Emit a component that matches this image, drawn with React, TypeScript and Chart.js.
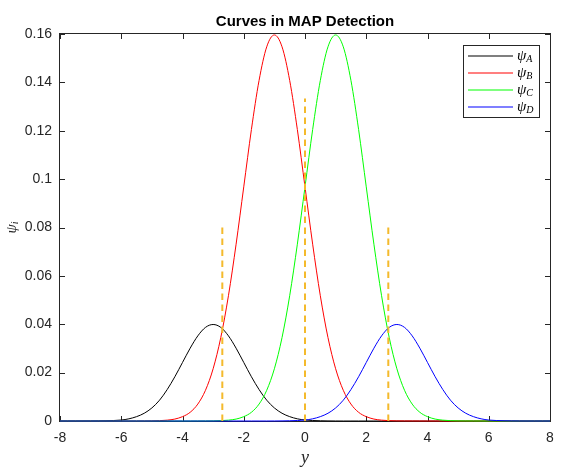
import React, { useEffect, useRef } from "react";
import { Chart, registerables } from "chart.js";

Chart.register(...registerables);

const xs = [-8, -7.75, -7.5, -7.25, -7, -6.75, -6.5, -6.25, -6, -5.75, -5.5, -5.25, -5, -4.75, -4.5, -4.25, -4, -3.75, -3.5, -3.25, -3, -2.75, -2.5, -2.25, -2, -1.75, -1.5, -1.25, -1, -0.75, -0.5, -0.25, 0, 0.25, 0.5, 0.75, 1, 1.25, 1.5, 1.75, 2, 2.25, 2.5, 2.75, 3, 3.25, 3.5, 3.75, 4, 4.25, 4.5, 4.75, 5, 5.25, 5.5, 5.75, 6, 6.25, 6.5, 6.75, 7, 7.25, 7.5, 7.75, 8];

const psiA = [0, 0, 0, 0, 0.00001, 0.00004, 0.0001, 0.0002, 0.0004, 0.0009, 0.0018, 0.0032, 0.0054, 0.0086, 0.013, 0.0183, 0.0242, 0.0301, 0.0352, 0.0387, 0.0399,
  0.0387, 0.0352, 0.0301, 0.0242, 0.0183, 0.013, 0.0086, 0.0054, 0.0032, 0.0018, 0.0009, 0.0004, 0.0002, 0.0001, 0.00004, 0.00001,
  0, 0, 0, 0, 0, 0, 0, 0, 0, 0, 0, 0, 0, 0, 0, 0, 0, 0, 0, 0, 0, 0, 0, 0, 0, 0, 0, 0];

const psiB = [0, 0, 0, 0, 0, 0, 0, 0, 0, 0,
  0.00001, 0.00002, 0.00005, 0.00014, 0.00035, 0.0008, 0.0018, 0.0036, 0.007, 0.0127, 0.0216, 0.0345, 0.0518, 0.0731, 0.0968, 0.1205, 0.1408, 0.1547,
  0.1596,
  0.1547, 0.1408, 0.1205, 0.0968, 0.0731, 0.0518, 0.0345, 0.0216, 0.0127, 0.007, 0.0036, 0.0018, 0.0008, 0.00035, 0.00014, 0.00005, 0.00002, 0.00001,
  0, 0, 0, 0, 0, 0, 0, 0, 0, 0, 0, 0, 0, 0, 0, 0, 0, 0];

const psiC = [0, 0, 0, 0, 0, 0, 0, 0, 0, 0, 0, 0, 0, 0, 0, 0, 0, 0,
  0.00001, 0.00002, 0.00005, 0.00014, 0.00035, 0.0008, 0.0018, 0.0036, 0.007, 0.0127, 0.0216, 0.0345, 0.0518, 0.0731, 0.0968, 0.1205, 0.1408, 0.1547,
  0.1596,
  0.1547, 0.1408, 0.1205, 0.0968, 0.0731, 0.0518, 0.0345, 0.0216, 0.0127, 0.007, 0.0036, 0.0018, 0.0008, 0.00035, 0.00014, 0.00005, 0.00002, 0.00001,
  0, 0, 0, 0, 0, 0, 0, 0, 0, 0];

const psiD = [0, 0, 0, 0, 0, 0, 0, 0, 0, 0, 0, 0, 0, 0, 0, 0, 0, 0, 0, 0, 0, 0, 0, 0, 0, 0, 0, 0,
  0.00001, 0.00004, 0.0001, 0.0002, 0.0004, 0.0009, 0.0018, 0.0032, 0.0054, 0.0086, 0.013, 0.0183, 0.0242, 0.0301, 0.0352, 0.0387,
  0.0399, 0.0387, 0.0352, 0.0301, 0.0242, 0.0183, 0.013, 0.0086, 0.0054, 0.0032, 0.0018, 0.0009, 0.0004, 0.0002, 0.0001, 0.00004, 0.00001, 0, 0, 0, 0];

const boundaryX = [-2.7, 0, 2.72];
const boundaryTop = [0.0802, 0.1333, 0.0802];

const seriesNames = ["A", "B", "C", "D"];
const seriesColors = ["#000000", "#ff0000", "#00ff00", "#0000ff"];
const seriesValues = [psiA, psiB, psiC, psiD];

const xTicks = [-8, -6, -4, -2, 0, 2, 4, 6, 8];
const yTicks = [0, 0.02, 0.04, 0.06, 0.08, 0.1, 0.12, 0.14, 0.16];

const AXIS = "#262626";
const SANS = "'Liberation Sans', Arial, Helvetica, sans-serif";
const SERIF = "'Liberation Serif', 'Times New Roman', serif";

const framePlugin = {
  id: "frame",
  beforeDatasetsDraw(chart: any) {
    const { ctx, chartArea: a, scales } = chart;
    ctx.save();
    ctx.strokeStyle = AXIS;
    ctx.lineWidth = 1;
    ctx.strokeRect(Math.round(a.left) - 0.5, Math.round(a.top) - 0.5, Math.round(a.right - a.left) + 1, Math.round(a.bottom - a.top) + 1);
    const tl = 5;
    ctx.beginPath();
    xTicks.forEach((v) => {
      const px = Math.round(scales.x.getPixelForValue(v)) + 0.5;
      ctx.moveTo(px, a.bottom);
      ctx.lineTo(px, a.bottom - tl);
      ctx.moveTo(px, a.top);
      ctx.lineTo(px, a.top + tl);
    });
    yTicks.forEach((v) => {
      const py = Math.round(scales.y.getPixelForValue(v)) + 0.5;
      ctx.moveTo(a.left, py);
      ctx.lineTo(a.left + tl, py);
      ctx.moveTo(a.right, py);
      ctx.lineTo(a.right - tl, py);
    });
    ctx.stroke();
    ctx.restore();
  },
  afterDraw(chart: any) {
    const { ctx, chartArea: a } = chart;
    const cx = (a.left + a.right) / 2;
    ctx.save();
    // title
    ctx.fillStyle = "#000";
    ctx.font = `bold 15px ${SANS}`;
    ctx.textAlign = "center";
    ctx.textBaseline = "alphabetic";
    ctx.fillText("Curves in MAP Detection", cx, 26);

    // x label
    ctx.fillStyle = AXIS;
    ctx.font = `italic 18px ${SERIF}`;
    ctx.textBaseline = "middle";
    ctx.fillText("y", cx, 458);

    // y label
    ctx.save();
    ctx.translate(12, (a.top + a.bottom) / 2);
    ctx.rotate(-Math.PI / 2);
    ctx.font = `italic 15px ${SERIF}`;
    ctx.textAlign = "left";
    ctx.textBaseline = "middle";
    const w1 = ctx.measureText("ψ").width;
    ctx.font = `italic 10px ${SERIF}`;
    const w2 = ctx.measureText("i").width;
    const sx = -(w1 + w2) / 2;
    ctx.font = `italic 15px ${SERIF}`;
    ctx.fillText("ψ", sx, 0);
    ctx.font = `italic 10px ${SERIF}`;
    ctx.fillText("i", sx + w1, 3);
    ctx.restore();

    // legend
    const lx = 463, ly = 45, lw = 76, lh = 72;
    ctx.fillStyle = "#fff";
    ctx.fillRect(lx, ly, lw, lh);
    ctx.strokeStyle = AXIS;
    ctx.lineWidth = 1;
    ctx.strokeRect(lx + 0.5, ly + 0.5, lw, lh);
    seriesNames.forEach((n, i) => {
      const y = 56 + i * 17;
      ctx.strokeStyle = seriesColors[i];
      ctx.lineWidth = 1.2;
      ctx.beginPath();
      ctx.moveTo(468, y);
      ctx.lineTo(513, y);
      ctx.stroke();
      ctx.fillStyle = "#000";
      ctx.textAlign = "left";
      ctx.textBaseline = "middle";
      ctx.font = `italic 15px ${SERIF}`;
      ctx.fillText("ψ", 517, y);
      const w = ctx.measureText("ψ").width;
      ctx.font = `italic 10px ${SERIF}`;
      ctx.fillText(n, 517 + w, y + 3);
    });
    ctx.restore();
  },
};

export default function App() {
  const ref = useRef<HTMLCanvasElement>(null);
  useEffect(() => {
    const canvas = ref.current;
    if (!canvas) return;
    const curveSets = seriesNames.map((n, i) => ({
      label: "ψ" + n,
      data: xs.map((x, k) => ({ x, y: seriesValues[i][k] })),
      borderColor: seriesColors[i],
      backgroundColor: seriesColors[i],
      borderWidth: 1,
      pointRadius: 0,
      cubicInterpolationMode: "monotone" as const,
      fill: false,
      clip: 4,
      order: 4 - i,
    }));
    const boundarySets = boundaryX.map((bx, i) => ({
      label: "boundary" + i,
      data: [{ x: bx, y: 0 }, { x: bx, y: boundaryTop[i] }],
      borderColor: "#F4BA2C",
      borderWidth: 2,
      borderDash: [6.5, 4.5],
      pointRadius: 0,
      fill: false,
      clip: 4,
      order: 0,
    }));
    const chart = new Chart(canvas, {
      type: "line",
      data: { datasets: [...boundarySets, ...curveSets] as any },
      plugins: [framePlugin],
      options: {
        responsive: false,
        animation: false,
        devicePixelRatio: 1,
        layout: { padding: { top: 34, right: 15, left: 0, bottom: 0 } },
        plugins: { legend: { display: false }, title: { display: false }, tooltip: { enabled: false } },
        scales: {
          x: {
            type: "linear",
            min: -8,
            max: 8,
            afterFit: (s: any) => { s.height = 53; },
            afterBuildTicks: (s: any) => { s.ticks = xTicks.map((v) => ({ value: v })); },
            grid: { display: false },
            border: { display: false },
            ticks: { color: AXIS, font: { family: SANS, size: 14 }, padding: 1, maxRotation: 0, callback: (v: any) => String(v) },
          },
          y: {
            type: "linear",
            min: 0,
            max: 0.16,
            afterFit: (s: any) => { s.width = 60; },
            afterBuildTicks: (s: any) => { s.ticks = yTicks.map((v) => ({ value: v })); },
            grid: { display: false },
            border: { display: false },
            ticks: { color: AXIS, font: { family: SANS, size: 14 }, padding: 0, callback: (v: any) => String(parseFloat(Number(v).toFixed(2))) },
          },
        },
      } as any,
    });
    return () => chart.destroy();
  }, []);
  return (
    <div style={{ position: "fixed", left: 0, top: 0, width: 565, height: 474, background: "#fff" }}>
      <canvas ref={ref} width={565} height={474} style={{ display: "block" }} />
    </div>
  );
}
